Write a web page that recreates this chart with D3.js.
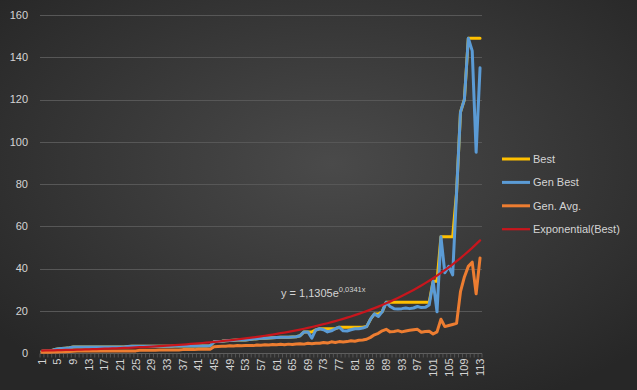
<!DOCTYPE html>
<html>
<head>
<meta charset="utf-8">
<script src="https://cdn.jsdelivr.net/npm/d3@7"></script>
<style>
  html, body { margin: 0; padding: 0; background: #2a2a2a; }
  #chart { width: 637px; height: 390px; }
  text { font-family: "Liberation Sans", Arial, sans-serif; }
</style>
</head>
<body>
<div id="chart"></div>
<script>
// generation numbers 1..113
const categories = d3.range(1, 114);

const genBest = [
  0.8, 0.9, 1.0, 1.5, 1.9, 2.1, 2.3, 2.5, 2.8, 2.8,
  2.8, 2.8, 2.8, 2.8, 2.8, 2.8, 2.8, 2.8, 2.8, 2.8,
  2.8, 2.8, 3.1, 3.2, 3.2, 3.2, 3.2, 3.2, 3.2, 3.2,
  3.2, 3.2, 3.2, 3.2, 3.3, 3.3, 3.3, 3.3, 3.3, 3.3,
  3.3, 3.3, 3.3, 3.4, 5.3, 5.5, 5.6, 5.8, 5.9, 6.0,
  6.1, 6.2, 6.2, 6.4, 6.6, 6.8, 7.0, 7.0, 7.1, 7.2,
  7.3, 7.4, 7.4, 7.5, 7.6, 7.7, 8.2, 10.0, 10.0, 7.0,
  10.9, 11.5, 11.0, 10.0, 10.5, 11.5, 12.2, 10.5, 10.4, 11.0,
  11.5, 11.5, 11.8, 12.5, 16.0, 18.5, 17.3, 19.6, 24.0, 22.0,
  21.0, 20.8, 21.0, 21.3, 21.0, 21.3, 22.0, 21.5, 21.6, 22.7,
  34.0, 19.5, 55.0, 38.0, 41.0, 37.0, 76.0, 114.0, 120.0, 149.0,
  143.0, 95.0, 135.0
];

const best = [
  0.8, 0.9, 1.0, 1.5, 1.9, 2.1, 2.3, 2.5, 2.8, 2.8,
  2.8, 2.8, 2.8, 2.8, 2.8, 2.8, 2.8, 2.8, 2.8, 2.8,
  2.8, 2.8, 3.1, 3.2, 3.2, 3.2, 3.2, 3.2, 3.2, 3.2,
  3.2, 3.2, 3.2, 3.2, 3.3, 3.3, 3.3, 3.3, 3.3, 3.3,
  3.3, 3.3, 3.3, 3.4, 5.3, 5.5, 5.6, 5.8, 5.9, 6.0,
  6.1, 6.2, 6.2, 6.4, 6.6, 6.8, 7.0, 7.0, 7.1, 7.2,
  7.3, 7.4, 7.4, 7.5, 7.6, 7.7, 8.2, 10.0, 10.0, 10.0,
  10.9, 11.5, 11.5, 11.5, 11.5, 11.5, 12.2, 12.2, 12.2, 12.2,
  12.2, 12.2, 12.2, 12.5, 16.0, 18.5, 18.5, 19.6, 24.0, 24.0,
  24.0, 24.0, 24.0, 24.0, 24.0, 24.0, 24.0, 24.0, 24.0, 24.0,
  34.0, 34.0, 55.0, 55.0, 55.0, 55.0, 76.0, 114.0, 120.0, 149.0,
  149.0, 149.0, 149.0
];

const genAvg = [
  0.3, 0.4, 0.4, 0.5, 0.5, 0.6, 0.6, 0.7, 0.8, 0.9,
  0.9, 0.9, 0.9, 0.9, 0.9, 0.9, 1.0, 1.0, 1.0, 1.0,
  1.0, 1.0, 1.0, 1.0, 1.0, 1.3, 1.3, 1.3, 1.3, 1.3,
  1.4, 1.4, 1.4, 1.4, 1.4, 1.4, 1.6, 1.6, 1.6, 1.6,
  1.8, 1.8, 1.8, 1.8, 3.0, 3.1, 3.2, 3.2, 3.4, 3.3,
  3.5, 3.4, 3.5, 3.6, 3.5, 3.8, 3.7, 3.9, 3.8, 4.0,
  3.9, 4.1, 3.9, 4.2, 4.0, 4.3, 4.4, 4.2, 4.6, 4.4,
  4.6, 4.6, 5.0, 4.7, 5.3, 5.0, 5.4, 5.2, 5.4, 5.8,
  5.6, 6.0, 6.2, 6.5, 7.4, 8.6, 9.3, 10.5, 11.2, 10.0,
  10.2, 10.6, 10.0, 10.4, 10.8, 11.0, 11.2, 9.8, 10.2, 10.3,
  9.0, 10.0, 16.0, 12.5, 13.0, 13.5, 14.0, 29.0, 36.0, 41.0,
  43.0, 28.0, 45.0
];

// exponential trendline of Best, as shown on the chart
const trendA = 1.1305;
const trendB = 0.0341;

const yTicks = [0, 20, 40, 60, 80, 100, 120, 140, 160];

const width = 637;
const height = 390;
const margin = { top: 15, right: 155, bottom: 37, left: 40 };

const svg = d3.select("#chart")
  .append("svg")
  .attr("width", width)
  .attr("height", height);

// background
const grad = svg.append("defs").append("radialGradient")
  .attr("id", "bg")
  .attr("cx", "52%").attr("cy", "42%").attr("r", "68%");
grad.append("stop").attr("offset", "0%").attr("stop-color", "#4a4a4a");
grad.append("stop").attr("offset", "100%").attr("stop-color", "#272727");

svg.append("rect")
  .attr("width", width)
  .attr("height", height)
  .attr("fill", "url(#bg)");

const x = d3.scalePoint()
  .domain(categories)
  .range([margin.left, width - margin.right])
  .padding(0.5);

const step = x.step();

const y = d3.scaleLinear()
  .domain([0, 160])
  .range([height - margin.bottom, margin.top]);

// gridlines
svg.append("g")
  .selectAll("line")
  .data(yTicks.filter(d => d > 0))
  .enter()
  .append("line")
  .attr("x1", margin.left)
  .attr("x2", width - margin.right)
  .attr("y1", d => Math.round(y(d)) + 0.5)
  .attr("y2", d => Math.round(y(d)) + 0.5)
  .attr("stroke", "#575757")
  .attr("stroke-width", 1);

// y labels
svg.append("g")
  .selectAll("text")
  .data(yTicks)
  .enter()
  .append("text")
  .attr("x", 28)
  .attr("y", d => y(d))
  .attr("dy", "0.35em")
  .attr("text-anchor", "end")
  .attr("fill", "#d4d4d4")
  .attr("font-size", 11)
  .text(d => d);

// x axis: baseline, small ticks between categories, rotated labels
const base = Math.round(y(0)) + 0.5;
svg.append("line")
  .attr("x1", margin.left)
  .attr("x2", width - margin.right)
  .attr("y1", base)
  .attr("y2", base)
  .attr("stroke", "#5e5e5e");

svg.append("g")
  .selectAll("line")
  .data(d3.range(categories.length + 1))
  .enter()
  .append("line")
  .attr("x1", i => margin.left + i * step)
  .attr("x2", i => margin.left + i * step)
  .attr("y1", base)
  .attr("y2", base + 4)
  .attr("stroke", "#5e5e5e")
  .attr("stroke-width", 0.8);

svg.append("g")
  .selectAll("text")
  .data(categories.filter(c => (c - 1) % 4 === 0))
  .enter()
  .append("text")
  .attr("transform", d => `translate(${x(d)},${base + 5}) rotate(-90)`)
  .attr("dy", "0.35em")
  .attr("text-anchor", "end")
  .attr("fill", "#d4d4d4")
  .attr("font-size", 11)
  .text(d => d);

// series
const line = d3.line()
  .x((d, i) => x(categories[i]))
  .y(d => y(d));

const series = [
  { name: "Best", values: best, color: "#ffc000", width: 3 },
  { name: "Gen Best", values: genBest, color: "#5b9bd5", width: 3 },
  { name: "Gen. Avg.", values: genAvg, color: "#ed7d31", width: 3 }
];

svg.append("g")
  .selectAll("path")
  .data(series)
  .enter()
  .append("path")
  .attr("d", d => line(d.values))
  .attr("fill", "none")
  .attr("stroke", d => d.color)
  .attr("stroke-width", d => d.width)
  .attr("stroke-linejoin", "round")
  .attr("stroke-linecap", "round");

// trendline
const trend = categories.map(c => trendA * Math.exp(trendB * c));
svg.append("path")
  .attr("d", line(trend))
  .attr("fill", "none")
  .attr("stroke", "#c8161d")
  .attr("stroke-width", 2.25)
  .attr("stroke-linecap", "round");

// equation
const eq = svg.append("text")
  .attr("x", 281)
  .attr("y", 297)
  .attr("fill", "#d4d4d4")
  .attr("font-size", 11);
eq.append("tspan").text("y = 1,1305e");
eq.append("tspan")
  .attr("font-size", 7.5)
  .attr("dy", -5)
  .text("0,0341x");

// legend
const legendItems = [
  { name: "Best", color: "#ffc000", width: 3 },
  { name: "Gen Best", color: "#5b9bd5", width: 3 },
  { name: "Gen. Avg.", color: "#ed7d31", width: 3 },
  { name: "Exponential(Best)", color: "#c8161d", width: 2.25 }
];

const legend = svg.append("g")
  .selectAll("g")
  .data(legendItems)
  .enter()
  .append("g")
  .attr("transform", (d, i) => `translate(502,${159 + i * 23.4})`);

legend.append("line")
  .attr("x1", 0)
  .attr("x2", 28)
  .attr("stroke", d => d.color)
  .attr("stroke-width", d => d.width);

legend.append("text")
  .attr("x", 31)
  .attr("dy", "0.35em")
  .attr("fill", "#d4d4d4")
  .attr("font-size", 11)
  .text(d => d.name);
</script>
</body>
</html>
